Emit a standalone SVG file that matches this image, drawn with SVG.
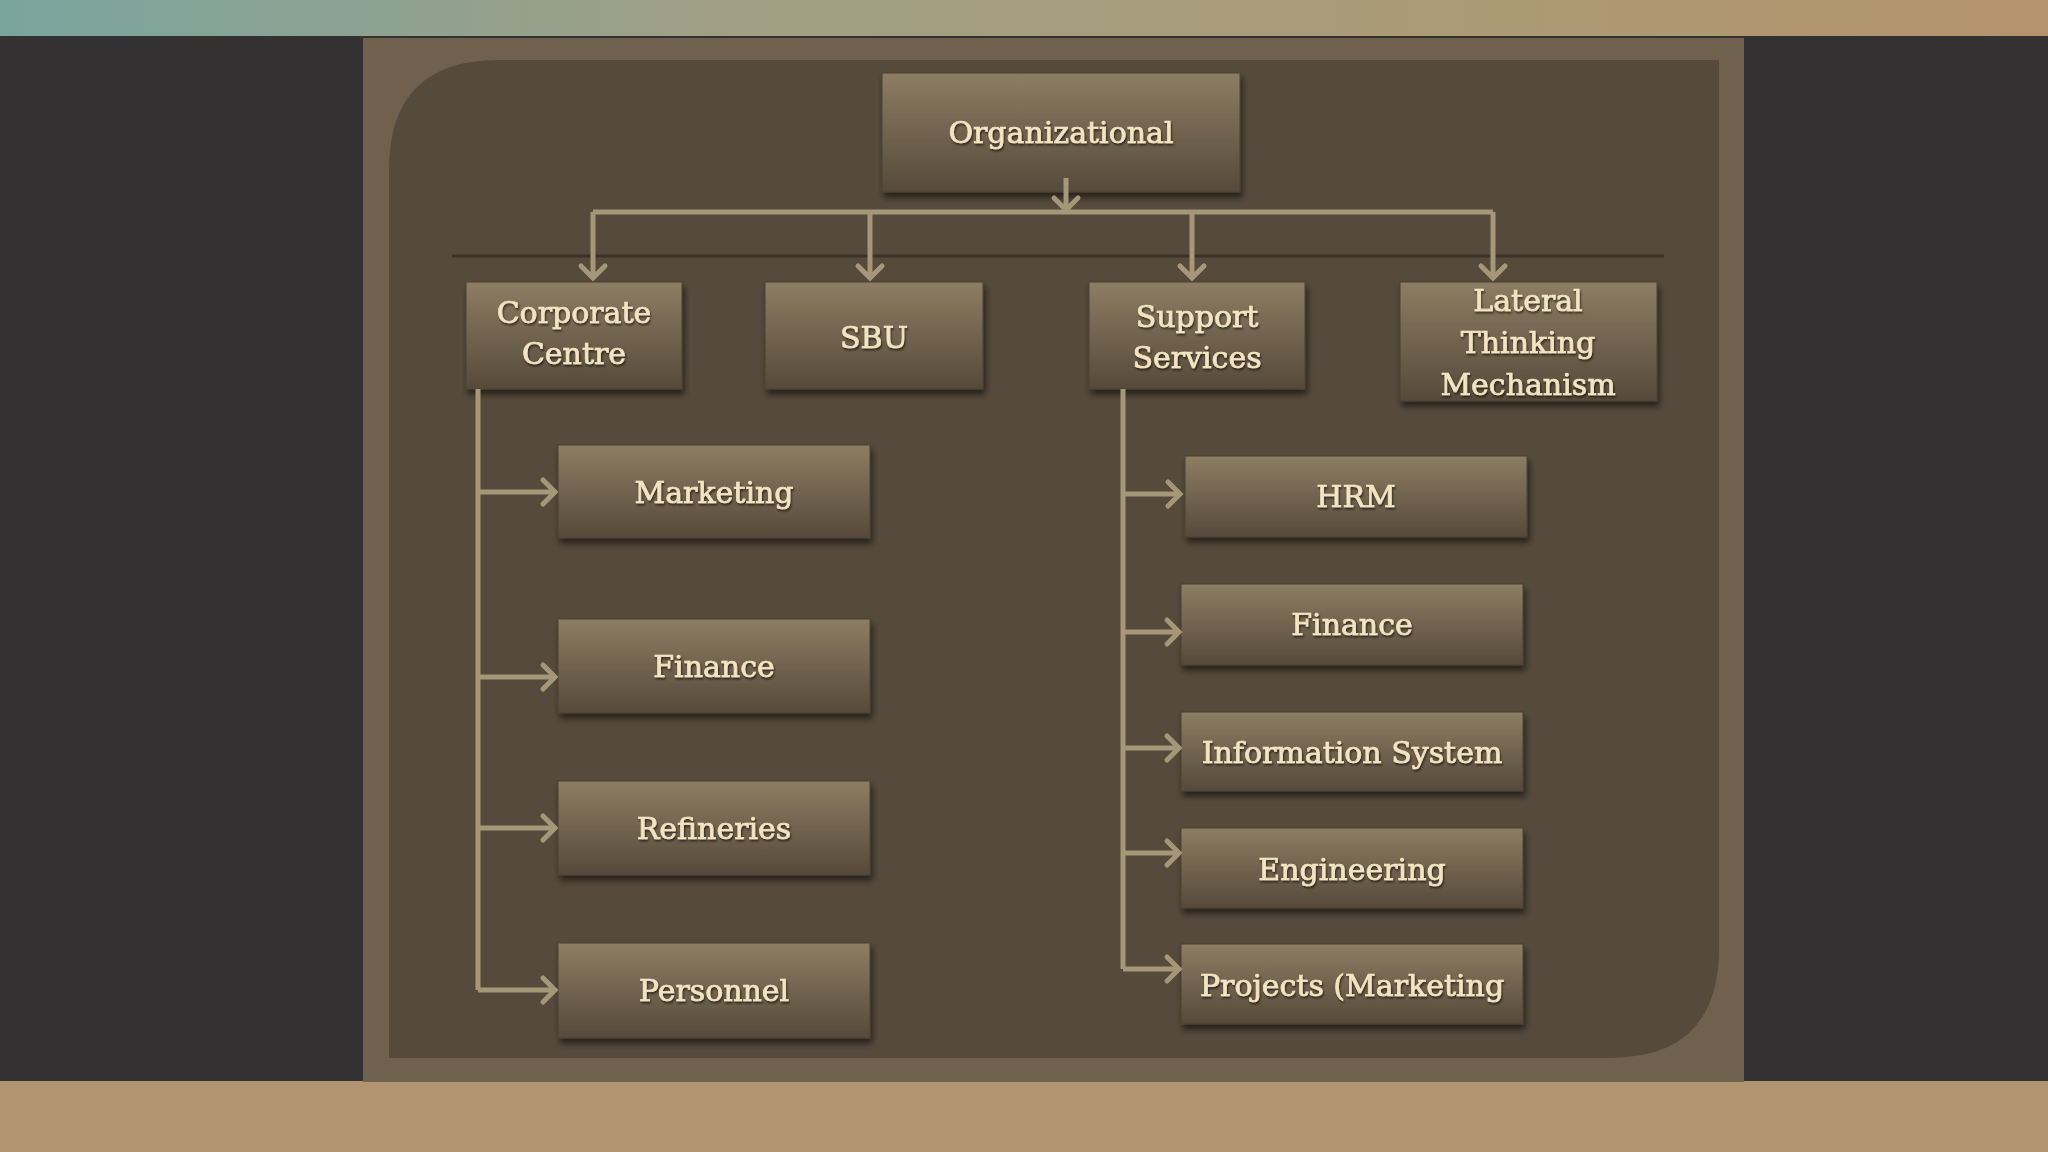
<svg xmlns="http://www.w3.org/2000/svg" width="2048" height="1152" viewBox="0 0 2048 1152">
<defs>
<linearGradient id="topband" x1="0" y1="0" x2="1" y2="0">
<stop offset="0" stop-color="#79a59e"/>
<stop offset="0.35" stop-color="#a09f85"/>
<stop offset="0.7" stop-color="#ab9b76"/>
<stop offset="1" stop-color="#b4936c"/>
</linearGradient>
<linearGradient id="boxg" x1="0" y1="0" x2="0" y2="1">
<stop offset="0" stop-color="#8d7d63"/>
<stop offset="0.55" stop-color="#6e614d"/>
<stop offset="1" stop-color="#564a3a"/>
</linearGradient>
<filter id="shadow" x="-10%" y="-10%" width="125%" height="135%">
<feGaussianBlur in="SourceAlpha" stdDeviation="3"/>
<feOffset dx="2" dy="5" result="b"/>
<feComponentTransfer><feFuncA type="linear" slope="0.55"/></feComponentTransfer>
<feMerge><feMergeNode/><feMergeNode in="SourceGraphic"/></feMerge>
</filter>
<filter id="tshadow" x="-5%" y="-20%" width="110%" height="150%">
<feGaussianBlur in="SourceAlpha" stdDeviation="1"/>
<feOffset dx="1" dy="2" result="b"/>
<feComponentTransfer><feFuncA type="linear" slope="0.6"/></feComponentTransfer>
<feMerge><feMergeNode/><feMergeNode in="SourceGraphic"/></feMerge>
</filter>
<marker id="arr" viewBox="-18 -16 22 32" refX="0" refY="0" markerWidth="22" markerHeight="32" markerUnits="userSpaceOnUse" orient="auto">
<path d="M-12,-12 L0,0 L-12,12" fill="none" stroke="#a69779" stroke-width="5" stroke-linecap="round" stroke-linejoin="miter"/>
</marker>
<style>
.box{fill:url(#boxg);stroke:#4a4034;stroke-width:1;filter:url(#shadow)}
.lbl{font-family:"DejaVu Serif","Liberation Serif",serif;font-size:30px;fill:#f3e4c2;stroke:#f3e4c2;stroke-width:0.7;text-anchor:middle;dominant-baseline:central;filter:url(#tshadow)}
.con{fill:none;stroke:#a69779;stroke-width:5;stroke-linejoin:round}
.arrow{fill:none;stroke:#a69779;stroke-width:5;marker-end:url(#arr)}
</style>
</defs>

<!-- background -->
<rect x="0" y="0" width="2048" height="1152" fill="#333131"/>
<rect x="0" y="0" width="2048" height="36" fill="url(#topband)"/>
<rect x="0" y="1081" width="2048" height="71" fill="#b39470"/>
<rect x="363" y="38" width="1381" height="1044" fill="#6f614d"/>
<path d="M389,170 Q389,60 499,60 H1719 V948 Q1719,1058 1609,1058 H389 Z" fill="#554a3b"/>
<line x1="452" y1="256" x2="1664" y2="256" stroke="#3b3329" stroke-width="3"/>

<g id="organizational"><rect class="box" x="882" y="73" width="358" height="119"/><text class="lbl" x="1061" y="132">Organizational</text></g>

<g id="corporate-centre"><rect class="box" x="466" y="282" width="216" height="107"/><text class="lbl" x="574" y="312">Corporate</text><text class="lbl" x="574" y="353">Centre</text></g>
<g id="sbu"><rect class="box" x="765" y="282" width="218" height="107"/><text class="lbl" x="874" y="337">SBU</text></g>
<g id="support-services"><rect class="box" x="1089" y="282" width="216" height="107"/><text class="lbl" x="1197" y="316">Support</text><text class="lbl" x="1197" y="357">Services</text></g>
<g id="lateral-thinking"><rect class="box" x="1400" y="282" width="257" height="119"/><text class="lbl" x="1528" y="300">Lateral</text><text class="lbl" x="1528" y="342">Thinking</text><text class="lbl" x="1528" y="384">Mechanism</text></g>

<g id="marketing"><rect class="box" x="558" y="445" width="312" height="93"/><text class="lbl" x="714" y="492">Marketing</text></g>
<g id="finance-left"><rect class="box" x="558" y="619" width="312" height="94"/><text class="lbl" x="714" y="666">Finance</text></g>
<g id="refineries"><rect class="box" x="558" y="781" width="312" height="94"/><text class="lbl" x="714" y="828">Refineries</text></g>
<g id="personnel"><rect class="box" x="558" y="943" width="312" height="95"/><text class="lbl" x="714" y="990">Personnel</text></g>

<g id="hrm"><rect class="box" x="1185" y="456" width="342" height="81"/><text class="lbl" x="1356" y="496">HRM</text></g>
<g id="finance-right"><rect class="box" x="1181" y="584" width="342" height="81"/><text class="lbl" x="1352" y="624">Finance</text></g>
<g id="information-system"><rect class="box" x="1181" y="712" width="342" height="79"/><text class="lbl" x="1352" y="752">Information System</text></g>
<g id="engineering"><rect class="box" x="1181" y="828" width="342" height="80"/><text class="lbl" x="1352" y="869">Engineering</text></g>
<g id="projects"><rect class="box" x="1181" y="944" width="342" height="80"/><text class="lbl" x="1352" y="985">Projects (Marketing</text></g>

<g id="connectors">
<path class="arrow" d="M1066,178 V210"/>
<path class="con" d="M593,212 H1493"/>
<path class="arrow" d="M593,212 V278"/>
<path class="arrow" d="M870,212 V278"/>
<path class="arrow" d="M1192,212 V278"/>
<path class="arrow" d="M1493,212 V278"/>
<path class="con" d="M478,389 V990"/>
<path class="arrow" d="M478,492 H555"/>
<path class="arrow" d="M478,677 H555"/>
<path class="arrow" d="M478,828 H555"/>
<path class="arrow" d="M478,990 H555"/>
<path class="con" d="M1123,389 V969"/>
<path class="arrow" d="M1123,494 H1180"/>
<path class="arrow" d="M1123,632 H1179"/>
<path class="arrow" d="M1123,748 H1179"/>
<path class="arrow" d="M1123,853 H1179"/>
<path class="arrow" d="M1123,969 H1179"/>
</g>
</svg>
